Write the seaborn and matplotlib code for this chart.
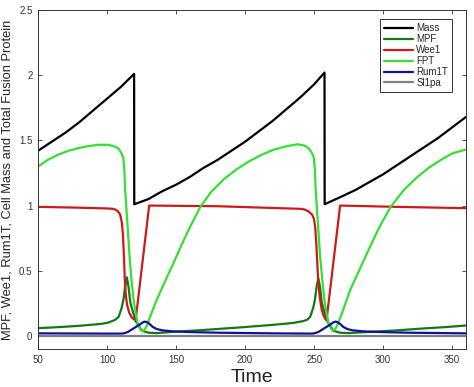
import matplotlib
matplotlib.use("Agg")
import matplotlib.pyplot as plt
import seaborn as sns
import pandas as pd

# values
mass_t = [50, 60, 70, 80, 90, 100, 110, 119.6, 119.7, 130, 140, 150, 160, 170, 180, 190, 200,
          210, 220, 230, 240, 250, 257.5, 257.6, 270, 280, 290, 300, 310, 320, 330, 340, 350, 360]
mass = [1.42, 1.49, 1.56, 1.64, 1.73, 1.82, 1.91, 2.01, 1.01, 1.05, 1.11, 1.16, 1.22, 1.29, 1.35, 1.42, 1.49,
        1.57, 1.65, 1.74, 1.83, 1.93, 2.02, 1.01, 1.07, 1.12, 1.18, 1.24, 1.31, 1.38, 1.45, 1.52, 1.60, 1.68]

mpf_t = [50, 60, 70, 80, 90, 95, 100, 104, 106, 108.3, 109.5, 110.7, 111.9, 113.1, 114.3, 115.5, 116.8,
         118, 119.2, 120.4, 122.8, 125.2, 130, 136, 150, 170, 197, 220, 235, 242.5, 245, 247, 248.2,
         249.4, 250.6, 251.8, 253, 254.2, 255.5, 256.7, 257.9, 259.1, 261.5, 263.9, 268.7, 274.7,
         290, 310, 330, 345, 360]
mpf = [0.060, 0.065, 0.071, 0.078, 0.087, 0.092, 0.100, 0.115, 0.125, 0.145, 0.18, 0.22, 0.28, 0.38, 0.45,
       0.38, 0.26, 0.21, 0.17, 0.12, 0.08, 0.04, 0.025, 0.022, 0.033, 0.046, 0.066, 0.085, 0.10, 0.115,
       0.125, 0.145, 0.18, 0.22, 0.28, 0.38, 0.44, 0.38, 0.26, 0.21, 0.17, 0.12, 0.08, 0.04, 0.025,
       0.022, 0.031, 0.043, 0.058, 0.068, 0.08]

wee1_t = [50, 75, 100, 104, 106, 108, 109.5, 110.7, 111.5, 112.2, 112.8, 113.5, 114.5, 116, 118, 120,
          120.8, 130.5, 131, 180, 240, 243, 246, 248.5, 249.8, 250.8, 251.6, 252.3, 253, 254, 255.5,
          257, 258.5, 259, 268.8, 269.2, 310, 360]
wee1 = [0.99, 0.985, 0.978, 0.975, 0.97, 0.955, 0.93, 0.87, 0.78, 0.62, 0.45, 0.32, 0.24, 0.18, 0.14, 0.125,
        0.13, 1.0, 1.0, 0.995, 0.975, 0.97, 0.955, 0.93, 0.90, 0.83, 0.70, 0.55, 0.42, 0.30, 0.20,
        0.15, 0.125, 0.125, 1.0, 1.0, 0.99, 0.98]

fpt_t = [50, 57, 64.5, 72, 79, 86, 93.5, 100.8, 105, 108, 110, 111.7, 112.5, 113.1, 114.7, 116.3, 117.7,
         119.2, 120.6, 122.1, 123.6, 125.2, 126.3, 127.5, 128.9, 132, 136.1, 142, 148.2, 154, 160.3,
         167.6, 175, 184.4, 194, 203, 212, 221, 230, 238, 243, 246, 248, 249.7, 250.5, 251.1, 252.7,
         254.3, 255.9, 257.4, 258.9, 260.4, 261.9, 263.4, 264.5, 265.7, 267, 270, 276.4, 282.5, 288.5,
         297, 305.4, 315, 324.8, 333, 341.7, 350, 360]
fpt = [1.30, 1.35, 1.39, 1.42, 1.44, 1.455, 1.466, 1.466, 1.455, 1.44, 1.41, 1.37, 1.28, 1.12, 0.87, 0.61,
       0.43, 0.28, 0.18, 0.10, 0.06, 0.04, 0.04, 0.055, 0.08, 0.17, 0.28, 0.42, 0.56, 0.70, 0.84,
       0.99, 1.10, 1.20, 1.28, 1.34, 1.39, 1.43, 1.455, 1.47, 1.46, 1.44, 1.41, 1.37, 1.28, 1.12, 0.87,
       0.61, 0.43, 0.28, 0.18, 0.10, 0.06, 0.04, 0.045, 0.06, 0.09, 0.17, 0.36, 0.50, 0.64,
       0.83, 0.99, 1.12, 1.22, 1.29, 1.35, 1.40, 1.43]

rum_t = [50, 100, 110, 112, 115, 118, 121, 124, 126, 127.6, 129, 131, 133, 136, 140, 148, 160, 180,
         220, 248, 250, 253, 256, 259, 262, 264, 265.6, 267, 269, 271, 274, 278, 286, 298, 318, 360]
rum1t = [0.02, 0.018, 0.018, 0.02, 0.03, 0.05, 0.07, 0.09, 0.105, 0.11, 0.105, 0.09, 0.07, 0.053, 0.043,
         0.035, 0.03, 0.025, 0.02, 0.018, 0.02, 0.03, 0.05, 0.07, 0.09, 0.105, 0.11, 0.105, 0.09, 0.07,
         0.053, 0.043, 0.035, 0.03, 0.025, 0.02]

sl1_t = [50, 360]
sl1pa = [0.0, 0.0]

names = ["Mass", "MPF", "Wee1", "FPT", "Rum1T", "Sl1pa"]
colors = ["#000000", "#127a12", "#cc1a1a", "#33e033", "#10109a", "#808080"]

parts = []
for name, t, v in zip(names, [mass_t, mpf_t, wee1_t, fpt_t, rum_t, sl1_t],
                      [mass, mpf, wee1, fpt, rum1t, sl1pa]):
    parts.append(pd.DataFrame({"t": t, "v": v, "series": name}))
df = pd.concat(parts, ignore_index=True)

sns.set_theme(style="white")
plt.rcParams["font.family"] = ["Liberation Sans", "DejaVu Sans"]

fig = plt.figure(figsize=(4.74, 3.87), dpi=100)
ax = fig.add_axes([0.0802, 0.0982, 0.903, 0.876])

sns.lineplot(data=df, x="t", y="v", hue="series", hue_order=names,
             palette=dict(zip(names, colors)), estimator=None, sort=False,
             linewidth=1.6, ax=ax)

ax.set_xlim(50, 360)
ax.set_ylim(-0.1, 2.5)
ax.set_xticks([50, 100, 150, 200, 250, 300, 350])
ax.set_yticks([0, 0.5, 1, 1.5, 2, 2.5])
ax.set_yticklabels(["0", "0.5", "1", "1.5", "2", "2.5"])
ax.tick_params(direction="in", length=3, width=0.6, labelsize=7, colors="#333333",
               top=True, right=True, bottom=True, left=True, pad=4)
for s in ax.spines.values():
    s.set_color("#333333")
    s.set_linewidth(0.7)

ax.set_xlabel("Time", fontsize=14, color="#222222", labelpad=3)
ax.set_ylabel("MPF, Wee1, Rum1T, Cell Mass and Total Fusion Protein", fontsize=9.3,
              color="#222222", labelpad=4)

leg = ax.legend(loc="upper right", bbox_to_anchor=(0.967, 0.973), fontsize=7,
                frameon=True, fancybox=False, framealpha=1, edgecolor="#333333",
                handlelength=3.0, handletextpad=0.3, labelspacing=0.1,
                borderpad=0.4, borderaxespad=0)
leg.get_frame().set_linewidth(0.7)
for line in leg.get_lines():
    line.set_linewidth(1.6)

fig.savefig("out.png", dpi=100)
